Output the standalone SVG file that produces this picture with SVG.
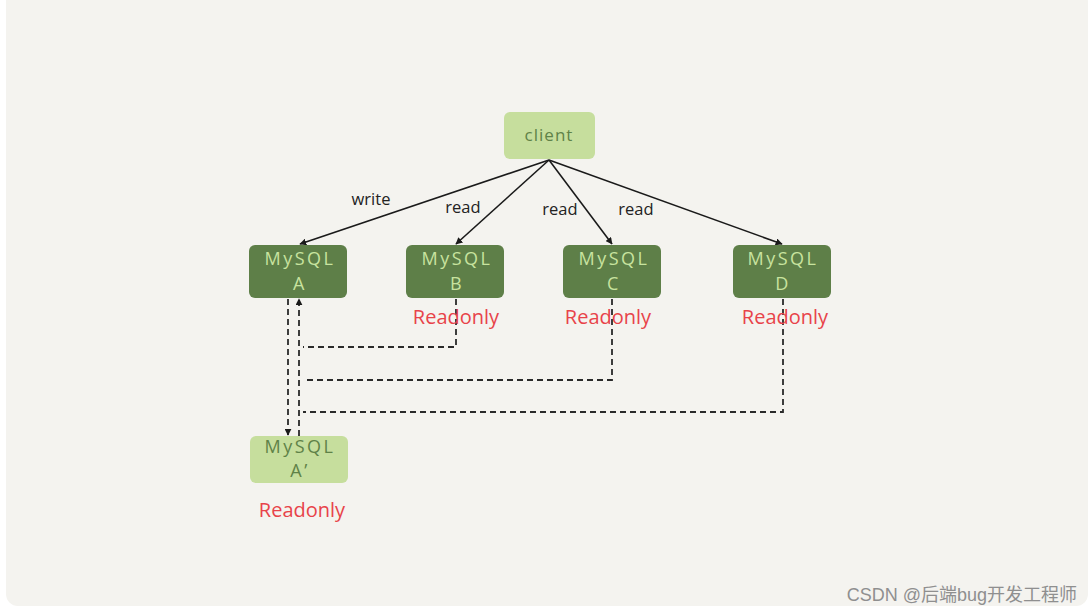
<svg xmlns="http://www.w3.org/2000/svg" width="1092" height="614" viewBox="0 0 1092 614">
<style>
.dark{fill:#5e7f48}
.light{fill:#c6de9d}
.dt{font-family:"Open Sans","Liberation Sans",sans-serif;font-size:18px;fill:#c8e39f;text-anchor:middle;letter-spacing:2.5px}
.lt{font-family:"Open Sans","Liberation Sans",sans-serif;font-size:18px;fill:#5f8248;text-anchor:middle;letter-spacing:2.5px}
.ct{font-family:"Open Sans","Liberation Sans",sans-serif;font-size:17px;fill:#5f8248;text-anchor:middle;letter-spacing:1px}
.ro{font-family:"Open Sans","Liberation Sans",sans-serif;font-size:20px;fill:#e8434a;text-anchor:middle}
.el{font-family:"Open Sans","Liberation Sans",sans-serif;font-size:16.5px;fill:#222;text-anchor:middle}
.solid{stroke:#1a1a1a;stroke-width:1.6;fill:none}
.dash{stroke:#2a2a2a;stroke-width:1.8;fill:none;stroke-dasharray:6 4}
</style>
<defs>
<marker id="ah" viewBox="0 0 10 10" refX="9" refY="5" markerWidth="7" markerHeight="7" orient="auto" markerUnits="userSpaceOnUse">
<path d="M0,0 L10,5 L0,10 z" fill="#1a1a1a"/>
</marker>
</defs>
<rect width="1092" height="614" fill="#ffffff"/>
<rect x="6" y="-10" width="1082" height="616" rx="12" fill="#f4f3ef"/>
<g id="connectors">
<line class="solid" x1="549" y1="160" x2="300" y2="244" marker-end="url(#ah)"/>
<line class="solid" x1="549" y1="160" x2="456" y2="244" marker-end="url(#ah)"/>
<line class="solid" x1="549" y1="160" x2="612" y2="244" marker-end="url(#ah)"/>
<line class="solid" x1="549" y1="160" x2="782" y2="244" marker-end="url(#ah)"/>
<text class="el" x="371" y="205">write</text>
<text class="el" x="463" y="213">read</text>
<text class="el" x="560" y="215">read</text>
<text class="el" x="636" y="215">read</text>
<line class="dash" x1="288" y1="299" x2="288" y2="435" marker-end="url(#ah)"/>
<line class="dash" x1="299" y1="436" x2="299" y2="299" marker-end="url(#ah)"/>
<polyline class="dash" points="456,299 456,347 303,347"/>
<polyline class="dash" points="612,299 612,380 303,380"/>
<polyline class="dash" points="783,299 783,412 303,412"/>
</g>
<g id="client">
<rect class="light" x="504" y="112" width="91" height="47" rx="6"/>
<text class="ct" x="549" y="141">client</text>
</g>
<g id="mysqlA">
<rect class="dark" x="249" y="245" width="98" height="53" rx="6"/>
<text class="dt" x="300" y="265">MySQL</text>
<text class="dt" x="300" y="290">A</text>
</g>
<g id="mysqlB">
<rect class="dark" x="406" y="245" width="98" height="53" rx="6"/>
<text class="dt" x="457" y="265">MySQL</text>
<text class="dt" x="457" y="290">B</text>
<text class="ro" x="456" y="324">Readonly</text>
</g>
<g id="mysqlC">
<rect class="dark" x="563" y="245" width="98" height="53" rx="6"/>
<text class="dt" x="614" y="265">MySQL</text>
<text class="dt" x="614" y="290">C</text>
<text class="ro" x="608" y="324">Readonly</text>
</g>
<g id="mysqlD">
<rect class="dark" x="733" y="245" width="98" height="53" rx="6"/>
<text class="dt" x="783" y="265">MySQL</text>
<text class="dt" x="783" y="290">D</text>
<text class="ro" x="785" y="324">Readonly</text>
</g>
<g id="mysqlA2">
<rect class="light" x="250" y="436" width="98" height="47" rx="6"/>
<text class="lt" x="300" y="453">MySQL</text>
<text class="lt" x="300" y="477">A’</text>
<text class="ro" x="302" y="517">Readonly</text>
</g>
<text x="1077" y="601" font-family="'Liberation Sans','Noto Sans CJK SC',sans-serif" font-size="18" fill="#8f8f8f" text-anchor="end">CSDN @后端bug开发工程师</text>
</svg>
